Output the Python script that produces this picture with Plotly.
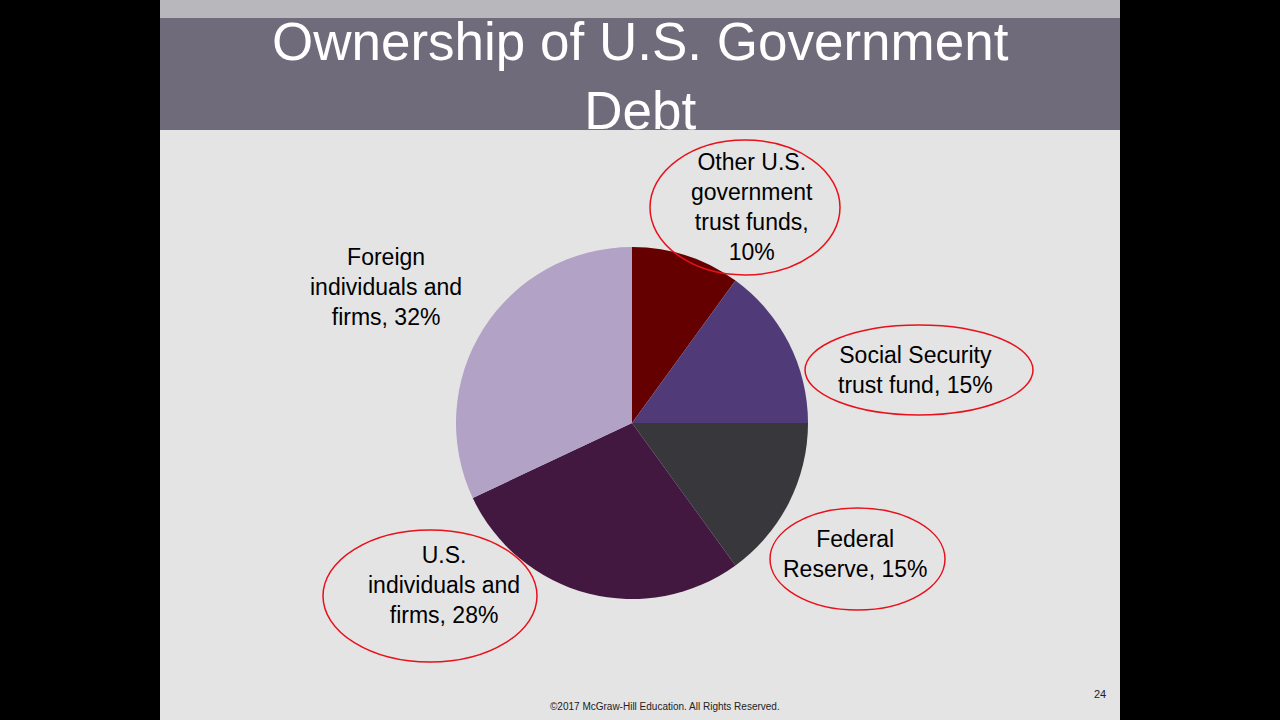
import plotly.graph_objects as go

labels = ["Other U.S. government trust funds", "Social Security trust fund",
          "Federal Reserve", "U.S. individuals and firms", "Foreign individuals and firms"]
values = [10, 15, 15, 28, 32]
colors = ["#640000", "#513a78", "#38383c", "#431840", "#b1a2c6"]
label_text = ["Other U.S.<br>government<br>trust funds,<br>10%",
              "Social Security<br>trust fund, 15%",
              "Federal<br>Reserve, 15%",
              "U.S.<br>individuals and<br>firms, 28%",
              "Foreign<br>individuals and<br>firms, 32%"]
label_pos = [(752, 207), (915, 370), (855, 554), (444, 585), (386, 287)]

W, H = 1280, 720
def px(x): return x / W
def py(y): return 1 - y / H

fig = go.Figure(go.Pie(
    labels=labels, values=values, sort=False, direction="clockwise", rotation=0,
    marker=dict(colors=colors, line=dict(width=0)), textinfo="none", hoverinfo="label+percent",
    domain=dict(x=[px(456), px(808)], y=[py(599), py(247)]), showlegend=False,
))

shapes = [
    dict(type="rect", xref="paper", yref="paper", x0=0, x1=px(160), y0=0, y1=1, fillcolor="black", line_width=0, layer="below"),
    dict(type="rect", xref="paper", yref="paper", x0=px(1120), x1=1, y0=0, y1=1, fillcolor="black", line_width=0, layer="below"),
    dict(type="rect", xref="paper", yref="paper", x0=px(160), x1=px(1120), y0=py(130), y1=py(18), fillcolor="#6f6b7a", line_width=0, layer="below"),
    dict(type="rect", xref="paper", yref="paper", x0=px(160), x1=px(1120), y0=py(18), y1=1, fillcolor="#b8b8bc", line_width=0, layer="below"),
]
# hand-drawn red circles from the slide
for x0, y0, x1, y1 in [(650, 140, 840, 275), (805, 325, 1033, 415), (770, 508, 945, 610), (323, 530, 537, 662)]:
    shapes.append(dict(type="circle", xref="paper", yref="paper", x0=px(x0), x1=px(x1), y0=py(y1), y1=py(y0),
                       line=dict(color="#e8101a", width=1.5)))

def note(text, x, y, size, color):
    return dict(text=text, x=px(x), y=py(y), xref="paper", yref="paper", showarrow=False,
                xanchor="center", yanchor="middle", font=dict(family="Liberation Sans", size=size, color=color))

ann = [note(t, x, y, 23, "black") for t, (x, y) in zip(label_text, label_pos)]
ann += [
    note("Ownership of U.S. Government<br>Debt", 640, 76, 53, "white"),
    note("©2017 McGraw-Hill Education. All Rights Reserved.", 665, 706, 10, "#222"),
    note("24", 1100, 694, 11, "#222"),
]

fig.update_layout(width=W, height=H, margin=dict(l=0, r=0, t=0, b=0),
                  paper_bgcolor="#e4e4e4", plot_bgcolor="#e4e4e4",
                  shapes=shapes, annotations=ann)
fig.write_html("out.html", config={"displayModeBar": False},
               post_script="document.body.style.margin='0';")
